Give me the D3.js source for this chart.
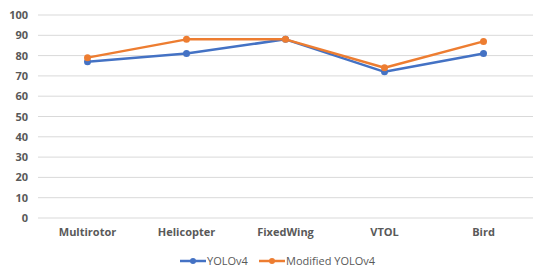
<!DOCTYPE html>
<html>
<head>
<meta charset="utf-8">
<script src="https://cdn.jsdelivr.net/npm/d3@7"></script>
<style>
  body { margin: 0; background: #fff; }
  svg { display: block; font-family: 'Open Sans', 'Liberation Sans', sans-serif; }
</style>
</head>
<body>
<div id="chart"></div>
<script>
const categories = ['Multirotor', 'Helicopter', 'FixedWing', 'VTOL', 'Bird'];
const yolov4 = [77, 81, 88, 72, 81];
const modifiedYolov4 = [79, 88, 88, 74, 87];
const yTicks = [0, 10, 20, 30, 40, 50, 60, 70, 80, 90, 100];
const seriesNames = ['YOLOv4', 'Modified YOLOv4'];

const colors = { blue: '#4472C4', orange: '#ED7D31', grid: '#d9d9d9', text: '#595959' };

const width = 550, height = 275;
const margin = { top: 15, right: 17, bottom: 57, left: 38 };

const svg = d3.select('#chart').append('svg')
  .attr('width', width)
  .attr('height', height);

const x = d3.scaleBand().domain(categories).range([margin.left, width - margin.right]);
const y = d3.scaleLinear().domain([0, 100]).range([height - margin.bottom, margin.top]);

// grid
svg.append('g')
  .selectAll('line')
  .data(yTicks)
  .enter().append('line')
  .attr('x1', margin.left)
  .attr('x2', width - margin.right)
  .attr('y1', d => y(d))
  .attr('y2', d => y(d))
  .attr('stroke', colors.grid)
  .attr('stroke-width', 1);

// y axis labels
const yAxis = d3.axisLeft(y).tickValues(yTicks).tickSize(0).tickPadding(10);
const yAxisView = svg.append('g')
  .attr('transform', 'translate(' + margin.left + ',0)')
  .call(yAxis);
yAxisView.select('.domain').remove();
yAxisView.selectAll('text')
  .style('font-family', "'Open Sans', sans-serif")
  .style('font-size', '11px')
  .style('font-weight', 'bold')
  .style('fill', colors.text);

// x axis labels
const xAxis = d3.axisBottom(x).tickSize(0).tickPadding(10);
const xAxisView = svg.append('g')
  .attr('transform', 'translate(0,' + y(0) + ')')
  .call(xAxis);
xAxisView.select('.domain').remove();
xAxisView.selectAll('text')
  .style('font-family', "'Open Sans', sans-serif")
  .style('font-size', '11px')
  .style('font-weight', 'bold')
  .style('fill', colors.text);

// lines
const line = d3.line()
  .x((d, i) => x(categories[i]) + x.bandwidth() / 2)
  .y(d => y(d));

const series = [
  { name: seriesNames[0], values: yolov4, color: colors.blue },
  { name: seriesNames[1], values: modifiedYolov4, color: colors.orange }
];

series.forEach(s => {
  const g = svg.append('g');
  g.append('path')
    .datum(s.values)
    .attr('d', line)
    .attr('fill', 'none')
    .attr('stroke', s.color)
    .attr('stroke-width', 2.5)
    .attr('stroke-linejoin', 'round');
  g.selectAll('circle')
    .data(s.values)
    .enter().append('circle')
    .attr('cx', (d, i) => x(categories[i]) + x.bandwidth() / 2)
    .attr('cy', d => y(d))
    .attr('r', 3.5)
    .attr('fill', s.color);
});

// legend
const legendY = 261;
const legendItems = [
  { x: 180, color: colors.blue, name: seriesNames[0] },
  { x: 259, color: colors.orange, name: seriesNames[1] }
];
const legend = svg.append('g');
legendItems.forEach(item => {
  legend.append('line')
    .attr('x1', item.x).attr('x2', item.x + 26)
    .attr('y1', legendY).attr('y2', legendY)
    .attr('stroke', item.color).attr('stroke-width', 2.5);
  legend.append('circle')
    .attr('cx', item.x + 13).attr('cy', legendY).attr('r', 3)
    .attr('fill', item.color);
  legend.append('text')
    .attr('x', item.x + 27)
    .attr('y', legendY)
    .attr('dy', '0.35em')
    .style('font-size', '11px')
    .style('fill', colors.text)
    .text(item.name);
});
</script>
</body>
</html>
